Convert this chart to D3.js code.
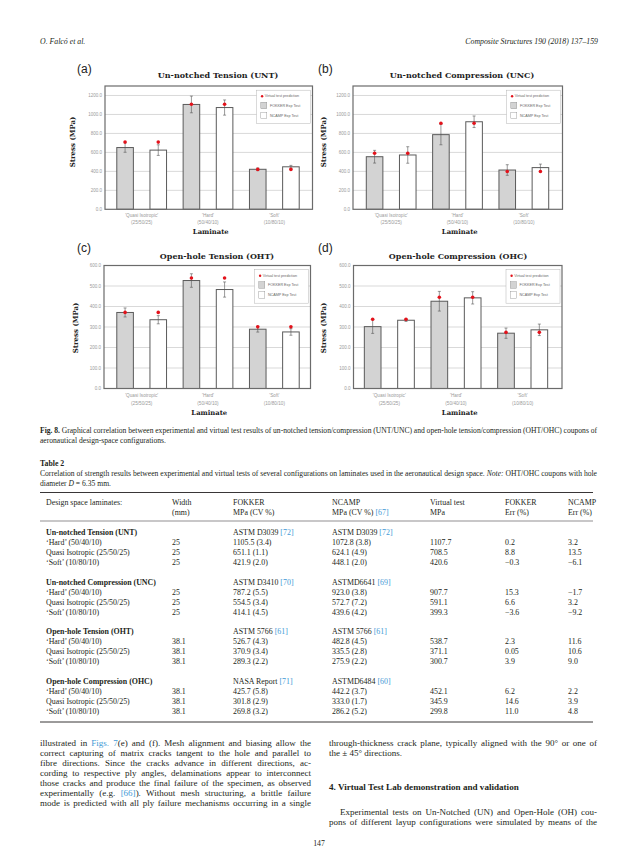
<!DOCTYPE html>
<html><head><meta charset="utf-8">
<script src="https://cdn.jsdelivr.net/npm/d3@7/dist/d3.min.js"></script>
<style>body{margin:0;background:#fff}svg{display:block}</style>
</head><body>
<script>
// ---------- chart data ----------
const categories = ["'Quasi Isotropic'", "'Hard'", "'Soft'"];
const layups = ["(25/50/25)", "(50/40/10)", "(10/80/10)"];
const seriesNames = ["FOKKER Exp Test", "NCAMP Exp Test"];
const legendVirtual = "Virtual test prediction";
const ticksUN = [0, 200, 400, 600, 800, 1000, 1200];
const ticksOH = [0, 100, 200, 300, 400, 500, 600];

const untFokker = [651.1, 1105.5, 421.9];
const untNcamp = [624.1, 1072.8, 448.1];
const untVirtual = [708.5, 1107.7, 420.6];
const untFokkerErr = [50, 88, 14];
const untNcampErr = [56, 80, 15];

const uncFokker = [554.5, 787.2, 414.1];
const uncNcamp = [572.7, 923.0, 439.6];
const uncVirtual = [591.1, 907.7, 399.3];
const uncFokkerErr = [67, 107, 56];
const uncNcampErr = [87, 61, 37];

const ohtFokker = [370.9, 526.7, 289.3];
const ohtNcamp = [335.5, 482.8, 275.9];
const ohtVirtual = [371.1, 538.7, 300.7];
const ohtFokkerErr = [22, 33, 14];
const ohtNcampErr = [20, 37, 16];

const ohcFokker = [301.8, 425.7, 269.8];
const ohcNcamp = [333.0, 442.2, 286.2];
const ohcVirtual = [338, 445, 274];
const ohcFokkerErr = [33, 48, 25];
const ohcNcampErr = [6, 30, 28];

// ---------- table data ----------
const tableHeader1 = ["Design space laminates:", "Width", "FOKKER", "NCAMP", "Virtual test", "FOKKER", "NCAMP"];
const tableHeader2 = ["", "(mm)", "MPa (CV %)", "MPa (CV %) ", "MPa", "Err (%)", "Err (%)"];
const sectionTitles = ["Un-notched Tension (UNT)", "Un-notched Compression (UNC)", "Open-hole Tension (OHT)", "Open-hole Compression (OHC)"];
const sectionFokkerStd = [["ASTM D3039 ", "[72]"], ["ASTM D3410 ", "[70]"], ["ASTM 5766 ", "[61]"], ["NASA Report ", "[71]"]];
const sectionNcampStd = [["ASTM D3039 ", "[72]"], ["ASTMD6641 ", "[69]"], ["ASTM 5766 ", "[61]"], ["ASTMD6484 ", "[60]"]];
const rowLaminates = ["\u2018Hard\u2019 (50/40/10)", "Quasi Isotropic (25/50/25)", "\u2018Soft\u2019 (10/80/10)"];
const sectionWidths = ["25", "25", "38.1", "38.1"];
const tabFokker = [["1105.5 (3.4)", "651.1 (1.1)", "421.9 (2.0)"], ["787.2 (5.5)", "554.5 (3.4)", "414.1 (4.5)"], ["526.7 (4.3)", "370.9 (3.4)", "289.3 (2.2)"], ["425.7 (5.8)", "301.8 (2.9)", "269.8 (3.2)"]];
const tabNcamp = [["1072.8 (3.8)", "624.1 (4.9)", "448.1 (2.0)"], ["923.0 (3.8)", "572.7 (7.2)", "439.6 (4.2)"], ["482.8 (4.5)", "335.5 (2.8)", "275.9 (2.2)"], ["442.2 (3.7)", "333.0 (1.7)", "286.2 (5.2)"]];
const tabVirtual = [["1107.7", "708.5", "420.6"], ["907.7", "591.1", "399.3"], ["538.7", "371.1", "300.7"], ["452.1", "345.9", "299.8"]];
const tabFokkerErr = [["0.2", "8.8", "\u22120.3"], ["15.3", "6.6", "\u22123.6"], ["2.3", "0.05", "3.9"], ["6.2", "14.6", "11.0"]];
const tabNcampErr = [["3.2", "13.5", "\u22126.1"], ["\u22121.7", "3.2", "\u22129.2"], ["11.6", "10.6", "9.0"], ["2.2", "3.9", "4.8"]];

// ---------- page ----------
const W = 638, H = 851;
const svg = d3.select("body").append("svg").attr("width", W).attr("height", H);
svg.append("rect").attr("width", W).attr("height", H).attr("fill", "#fff");
const SERIF = "'Liberation Serif','Times New Roman',serif";
const TITLEF = "'DejaVu Serif',serif";
const SANS = "'Liberation Sans',Arial,sans-serif";
const LINK = "#3f9ad6";
const INK = "#231f20";

// header
svg.append("text").attr("x", 40).attr("y", 44).attr("font-family", SERIF).attr("font-style", "italic")
  .attr("font-size", 7.8).attr("fill", INK).text("O. Falcó et al.");
svg.append("text").attr("x", 598).attr("y", 44).attr("text-anchor", "end").attr("font-family", SERIF).attr("font-style", "italic")
  .attr("font-size", 7.8).attr("fill", INK).text("Composite Structures 190 (2018) 137\u2013159");

const panels = [
  {tag: "(a)", title: "Un-notched Tension (UNT)", f: untFokker, n: untNcamp, v: untVirtual, fe: untFokkerErr, ne: untNcampErr, ticks: ticksUN, yMax: 1300,
   L: {x0: 108.5, x1: 307.5, fx0: 105, fx1: 312.5, yb: 209.3, yt: 86, tagX: 77, tagY: 72.5, titleX: 218, titleY: 78, ylabX: 73, ylabY: 142, cat1: 215.8, cat2: 222.8, lamY: 231.5}},
  {tag: "(b)", title: "Un-notched Compression (UNC)", f: uncFokker, n: uncNcamp, v: uncVirtual, fe: uncFokkerErr, ne: uncNcampErr, ticks: ticksUN, yMax: 1300,
   L: {x0: 358, x1: 557, fx0: 353, fx1: 562.5, yb: 209.3, yt: 86, tagX: 318, tagY: 72.5, titleX: 462, titleY: 78, ylabX: 324, ylabY: 142, cat1: 215.8, cat2: 222.8, lamY: 231.5}},
  {tag: "(c)", title: "Open-hole Tension (OHT)", f: ohtFokker, n: ohtNcamp, v: ohtVirtual, fe: ohtFokkerErr, ne: ohtNcampErr, ticks: ticksOH, yMax: 600,
   L: {x0: 108.5, x1: 307.5, fx0: 104, fx1: 310.5, yb: 388.5, yt: 265.5, tagX: 77, tagY: 251.5, titleX: 217, titleY: 259, ylabX: 76, ylabY: 328, cat1: 395.5, cat2: 403, lamY: 413}},
  {tag: "(d)", title: "Open-hole Compression (OHC)", f: ohcFokker, n: ohcNcamp, v: ohcVirtual, fe: ohcFokkerErr, ne: ohcNcampErr, ticks: ticksOH, yMax: 600,
   L: {x0: 356, x1: 556, fx0: 353.5, fx1: 562, yb: 388.5, yt: 265.5, tagX: 318, tagY: 251.5, titleX: 458, titleY: 259, ylabX: 324, ylabY: 328, cat1: 395.5, cat2: 403, lamY: 413}}
];

function drawPanel(p) {
  const L = p.L;
  const g = svg.append("g");
  const x = d3.scaleBand().domain(categories).range([L.x0, L.x1]);
  const xs = d3.scaleBand().domain(seriesNames).range([0, x.bandwidth()]).paddingInner(0.5).paddingOuter(0.25);
  const y = d3.scaleLinear().domain([0, p.yMax]).range([L.yb, L.yt]);

  g.selectAll("line.grid").data(p.ticks.filter(t => t > 0 && t < p.yMax)).join("line")
    .attr("x1", L.fx0).attr("x2", L.fx1).attr("y1", d => y(d)).attr("y2", d => y(d))
    .attr("stroke", "#cfcfcf").attr("stroke-width", 0.8);

  const ax = g.append("g").attr("transform", `translate(${L.fx0 - 3},0)`)
    .call(d3.axisLeft(y).tickValues(p.ticks).tickFormat(d3.format(".1f")).tickSize(0).tickPadding(0));
  ax.select(".domain").remove();
  ax.selectAll("text").attr("font-family", SANS).attr("font-size", 4.5).attr("fill", "#9a9a9a");

  const rows = categories.map((c, i) => [
    {c, s: seriesNames[0], v: p.f[i], e: p.fe[i], vt: p.v[i], fill: "#d3d3d3"},
    {c, s: seriesNames[1], v: p.n[i], e: p.ne[i], vt: p.v[i], fill: "#ffffff"}
  ]).flat();
  g.selectAll("rect.bar").data(rows).join("rect")
    .attr("x", d => x(d.c) + xs(d.s)).attr("width", xs.bandwidth())
    .attr("y", d => y(d.v)).attr("height", d => y(0) - y(d.v))
    .attr("fill", d => d.fill).attr("stroke", "#5a5a5a").attr("stroke-width", 1);

  const cx = d => x(d.c) + xs(d.s) + xs.bandwidth() / 2;
  const eg = g.selectAll("g.err").data(rows).join("g");
  eg.append("line").attr("x1", cx).attr("x2", cx).attr("y1", d => y(d.v - d.e)).attr("y2", d => y(d.v + d.e))
    .attr("stroke", "#555").attr("stroke-width", 0.6);
  eg.append("line").attr("x1", d => cx(d) - 1.5).attr("x2", d => cx(d) + 1.5).attr("y1", d => y(d.v + d.e)).attr("y2", d => y(d.v + d.e))
    .attr("stroke", "#555").attr("stroke-width", 0.6);
  eg.append("line").attr("x1", d => cx(d) - 1.5).attr("x2", d => cx(d) + 1.5).attr("y1", d => y(d.v - d.e)).attr("y2", d => y(d.v - d.e))
    .attr("stroke", "#555").attr("stroke-width", 0.6);

  g.selectAll("circle.vt").data(rows).join("circle")
    .attr("cx", cx).attr("cy", d => y(d.vt)).attr("r", 1.8).attr("fill", "#e3121b");

  g.append("rect").attr("x", L.fx0).attr("y", L.yt).attr("width", L.fx1 - L.fx0).attr("height", L.yb - L.yt)
    .attr("fill", "none").attr("stroke", "#6b6b6b").attr("stroke-width", 1.2);

  const lw = 54, lh = 33.5;
  const lx = L.fx1 - 2 - lw, ly = L.yt + 4.2;
  const lg = g.append("g").attr("transform", `translate(${lx},${ly})`);
  lg.append("rect").attr("width", lw).attr("height", lh).attr("fill", "#fff").attr("stroke", "#b5b5b5").attr("stroke-width", 0.5);
  lg.append("circle").attr("cx", 5.6).attr("cy", 6).attr("r", 1.2).attr("fill", "#e3121b");
  lg.append("text").attr("x", 8.2).attr("y", 6).attr("dy", "0.35em").attr("font-family", SANS).attr("font-size", 3.7).attr("fill", "#666").text(legendVirtual);
  [["#d3d3d3", 12], ["#ffffff", 22]].forEach(([fc, yy], i) => {
    lg.append("rect").attr("x", 4.3).attr("y", yy).attr("width", 6).attr("height", 6.6).attr("fill", fc).attr("stroke", "#8a8a8a").attr("stroke-width", 0.4);
    lg.append("text").attr("x", 13.4).attr("y", yy + 3.3).attr("dy", "0.35em").attr("font-family", SANS).attr("font-size", 3.7).attr("fill", "#666").text(seriesNames[i]);
  });

  g.selectAll("text.cat1").data(categories).join("text")
    .attr("x", d => x(d) + x.bandwidth() / 2).attr("y", L.cat1).attr("dy", "0.35em").attr("text-anchor", "middle")
    .attr("font-family", SANS).attr("font-size", 4.7).attr("fill", "#9a9a9a").text(d => d);
  g.selectAll("text.cat2").data(layups).join("text")
    .attr("x", (d, i) => x(categories[i]) + x.bandwidth() / 2).attr("y", L.cat2).attr("dy", "0.35em").attr("text-anchor", "middle")
    .attr("font-family", SANS).attr("font-size", 4.7).attr("fill", "#9a9a9a").text(d => d);

  g.append("text").attr("x", (L.fx0 + L.fx1) / 2 + 2).attr("y", L.lamY).attr("dy", "0.35em").attr("text-anchor", "middle")
    .attr("font-family", TITLEF).attr("font-weight", "bold").attr("font-size", 6.8).attr("fill", "#222").text("Laminate");
  g.append("text").attr("transform", `translate(${L.ylabX},${L.ylabY}) rotate(-90)`).attr("dy", "0.35em").attr("text-anchor", "middle")
    .attr("font-family", TITLEF).attr("font-weight", "bold").attr("font-size", 7).attr("fill", "#222").text("Stress (MPa)");
  g.append("text").attr("x", L.titleX).attr("y", L.titleY).attr("text-anchor", "middle")
    .attr("font-family", TITLEF).attr("font-weight", "bold").attr("font-size", 8).attr("fill", "#222").text(p.title);
  g.append("text").attr("x", L.tagX).attr("y", L.tagY).attr("font-family", SANS).attr("font-size", 12).attr("fill", "#222").text(p.tag);
}
panels.forEach(drawPanel);

// ---------- text helpers ----------
function line(x, y, parts, opts = {}) {
  const t = svg.append("text").attr("x", x).attr("y", y).attr("font-family", SERIF)
    .attr("font-size", opts.size || 8.4).attr("fill", INK).attr("xml:space", "preserve");
  if (opts.anchor) t.attr("text-anchor", opts.anchor);
  let full = "";
  (Array.isArray(parts) ? parts : [[parts]]).forEach(p => {
    full += p[0];
    const s = t.append("tspan").text(p[0]);
    if (p[1] === "b") s.attr("font-weight", "bold");
    if (p[1] === "i") s.attr("font-style", "italic");
    if (p[1] === "l") s.attr("fill", LINK);
  });
  if (opts.width) {
    const natural = t.node().getComputedTextLength();
    const spaces = (full.match(/ /g) || []).length;
    if (spaces > 0) {
      const ws = (opts.width - natural) / spaces;
      t.attr("word-spacing", ws.toFixed(3));
      const after = t.node().getComputedTextLength();
      if (Math.abs(after - opts.width) > 1 && after !== natural) {
        // fallback adjust if word-spacing not fully applied
        t.attr("textLength", opts.width).attr("lengthAdjust", "spacing");
      }
    }
  }
  return t;
}

// figure caption
const CL = 40, CR = 597;
const CAP = 7.6;
line(CL, 432.5, [["Fig. 8.", "b"], [" Graphical correlation between experimental and virtual test results of un-notched tension/compression (UNT/UNC) and open-hole tension/compression (OHT/OHC) coupons of"]], {size: CAP, width: CR - CL});
line(CL, 442.5, [["aeronautical design-space configurations."]], {size: CAP});

// table caption
line(CL, 465.5, [["Table 2", "b"]], {size: 7.8});
line(CL, 475.5, [["Correlation of strength results between experimental and virtual tests of several configurations on laminates used in the aeronautical design space. "], ["Note:", "i"], [" OHT/OHC coupons with hole"]], {size: CAP, width: CR - CL});
line(CL, 485.5, [["diameter "], ["D", "i"], [" = 6.35 mm."]], {size: CAP});

// table
const TL = 40, TR = 593;
const colX = [46, 172, 233, 332, 430, 505, 568];
svg.append("line").attr("x1", TL).attr("x2", TR).attr("y1", 492.5).attr("y2", 492.5).attr("stroke", INK).attr("stroke-width", 0.9);
svg.append("line").attr("x1", TL).attr("x2", TR).attr("y1", 521).attr("y2", 521).attr("stroke", INK).attr("stroke-width", 0.5);
svg.append("line").attr("x1", TL).attr("x2", TR).attr("y1", 722).attr("y2", 722).attr("stroke", INK).attr("stroke-width", 0.9);
const TS = 7.9;
tableHeader1.forEach((h, i) => line(colX[i], 504.5, [[h]], {size: TS}));
tableHeader2.forEach((h, i) => {
  if (!h) return;
  const parts = [[h]];
  if (i === 3) parts.push(["[67]", "l"]);
  line(colX[i], 514.5, parts, {size: TS});
});
const secY = [535, 584.5, 634, 683.5];
sectionTitles.forEach((s, k) => {
  const y0 = secY[k];
  line(colX[0], y0, [[s, "b"]], {size: TS});
  line(colX[2], y0, [[sectionFokkerStd[k][0]], [sectionFokkerStd[k][1], "l"]], {size: TS});
  line(colX[3], y0, [[sectionNcampStd[k][0]], [sectionNcampStd[k][1], "l"]], {size: TS});
  rowLaminates.forEach((r, j) => {
    const yy = y0 + 10 * (j + 1);
    line(colX[0], yy, [[r]], {size: TS});
    line(colX[1], yy, [[sectionWidths[k]]], {size: TS});
    line(colX[2], yy, [[tabFokker[k][j]]], {size: TS});
    line(colX[3], yy, [[tabNcamp[k][j]]], {size: TS});
    line(colX[4], yy, [[tabVirtual[k][j]]], {size: TS});
    line(colX[5], yy, [[tabFokkerErr[k][j]]], {size: TS});
    line(colX[6], yy, [[tabNcampErr[k][j]]], {size: TS});
  });
});

// body text
const LX0 = 40, LX1 = 311, RX0 = 329, RX1 = 597;
const BS = 9;
const leftLines = [
  [["illustrated in "], ["Figs. 7", "l"], ["(e) and (f). Mesh alignment and biasing allow the"]],
  [["correct capturing of matrix cracks tangent to the hole and parallel to"]],
  [["fibre directions. Since the cracks advance in different directions, ac-"]],
  [["cording to respective ply angles, delaminations appear to interconnect"]],
  [["those cracks and produce the final failure of the specimen, as observed"]],
  [["experimentally (e.g. "], ["[66]", "l"], ["). Without mesh structuring, a brittle failure"]],
  [["mode is predicted with all ply failure mechanisms occurring in a single"]]
];
leftLines.forEach((l, i) => line(LX0, 745.5 + 10.1 * i, l, {size: BS, width: LX1 - LX0}));
line(RX0, 745.5, [["through-thickness crack plane, typically aligned with the 90\u00b0 or one of"]], {size: BS, width: RX1 - RX0});
line(RX0, 755.6, [["the \u00b1 45\u00b0 directions."]], {size: BS});
line(RX0, 789.5, [["4. Virtual Test Lab demonstration and validation", "b"]], {size: 9.1});
line(RX0 + 11, 814.5, [["Experimental tests on Un-Notched (UN) and Open-Hole (OH) cou-"]], {size: BS, width: RX1 - RX0 - 11});
line(RX0, 824.6, [["pons of different layup configurations were simulated by means of the"]], {size: BS, width: RX1 - RX0});
line(319, 845.5, [["147"]], {size: 7.8, anchor: "middle"});
</script>
</body></html>
